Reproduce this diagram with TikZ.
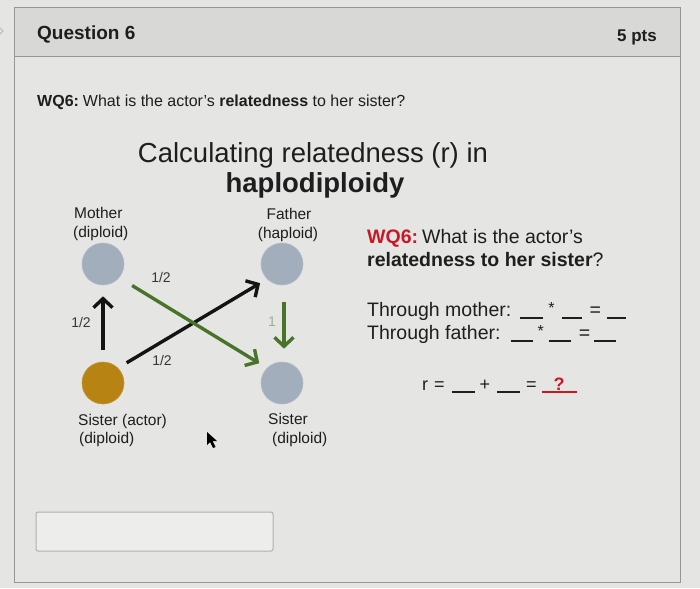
\documentclass[tikz,border=0pt]{standalone}
\usepackage{fontspec}
\setmainfont{Liberation Sans}
\usetikzlibrary{arrows.meta}
\definecolor{bgc}{RGB}{229,230,228}
\definecolor{hdrc}{RGB}{216,217,215}
\definecolor{framec}{RGB}{150,150,150}
\definecolor{boxc}{RGB}{175,176,174}
\definecolor{cgrey}{RGB}{163,174,189}
\definecolor{cgold}{RGB}{183,131,18}
\definecolor{agreen}{RGB}{72,115,40}
\definecolor{wqred}{RGB}{200,24,38}
\definecolor{txtc}{RGB}{30,30,30}
\definecolor{lblc}{RGB}{55,55,55}
\newcommand{\myfs}[1]{\fontsize{#1}{#1}\selectfont}
\newcommand{\blk}[1]{\rule[-2.5pt]{#1}{1.2pt}}
\newcommand{\mystar}{{\myfs{16}\raisebox{3pt}{*}}}
\begin{document}
\begin{tikzpicture}[x=1pt,y=-1pt,
  txt/.style={inner sep=0pt, anchor=base west, text=txtc},
  ctxt/.style={inner sep=0pt, anchor=base, text=txtc},
  person/.style={circle, minimum size=42pt, inner sep=0pt, fill=cgrey, draw=cgrey!85!white, line width=0.6pt},
  blkarrow/.style={draw=black!92, line width=3.4pt, -{Straight Barb[length=9pt,width=19pt]}},
  grnarrow/.style={draw=agreen, line width=3.4pt, -{Straight Barb[length=9pt,width=19pt]}},
  frac/.style={inner sep=0pt, text=lblc, font=\myfs{14}}]
\useasboundingbox (0,0) rectangle (700,588);
\fill[bgc] (0,0) rectangle (700,588);
% frame
\fill[hdrc] (14,8) rectangle (680,57);
\draw[framec, line width=1pt] (14,8) rectangle (680,582);
\draw[framec, line width=1pt] (14,57) -- (680,57);
\draw[framec!70!white, line width=1pt] (-1,27) -- (3,31) -- (-1,35);
% header
\node[txt, font=\myfs{19}\bfseries] (q) at (37,40) {Question 6};
\node[inner sep=0pt, anchor=base east, text=txtc, font=\myfs{17}\bfseries] (pts) at (657,42) {5 pts};
\node[txt, font=\myfs{16}] (wq) at (37,107) {\textbf{WQ6:}\hspace{4pt}What is the actor’s \textbf{relatedness} to her sister?};
% title
\node[ctxt, font=\myfs{27.5}] (t1) at (313,162) {Calculating relatedness (r) in};
\node[ctxt, font=\myfs{27.5}\bfseries] (t2) at (315,192) {haplodiploidy};
% persons
\node[person] (m) at (103,264) {};
\node[person] (f) at (282,264) {};
\node[person, fill=cgold, draw=cgold!85!white] (a) at (103,383) {};
\node[person] (s) at (282,383) {};
% labels
\node[txt, font=\myfs{15.5}] (ml1) at (74,218) {Mother};
\node[txt, font=\myfs{15.5}] (ml2) at (73,237) {(diploid)};
\node[ctxt, font=\myfs{15.5}] (fl1) at (289,219) {Father};
\node[ctxt, font=\myfs{15.5}] (fl2) at (288,238) {(haploid)};
\node[txt, font=\myfs{15.5}] (al1) at (78,425) {Sister (actor)};
\node[txt, font=\myfs{15.5}] (al2) at (79,443) {(diploid)};
\node[txt, font=\myfs{15.5}] (sl1) at (268,424) {Sister};
\node[txt, font=\myfs{15.5}] (sl2) at (272,443) {(diploid)};
% arrows
\draw[blkarrow, shorten <=12pt, shorten >=11pt] (a) -- (m);
\draw[blkarrow, shorten <=10pt, shorten >=8pt] (a.45) -- (f.225);
\draw[grnarrow, shorten <=15pt, shorten >=9pt] (m.-40) -- (s.135);
\draw[grnarrow, shorten <=17pt, shorten >=13pt] ([xshift=2pt]f.south) -- ([xshift=2pt]s.north);
\node[frac] (l1) at (81,322) {1/2};
\node[frac] (l2) at (161,277) {1/2};
\node[frac] (l3) at (162,360) {1/2};
\node[frac, text=agreen!55!white] (l4) at (272,322) {1};
% cursor
\fill[black] (207,432) -- (207,445) -- (210,442) -- (213,448) -- (215.5,447) -- (212.5,441) -- (217,441) -- cycle;
% right text
\node[txt, font=\myfs{19.5}] (w1) at (367,243) {\textcolor{wqred}{\textbf{WQ6:}}\hspace{4pt}What is the actor’s};
\node[txt, font=\myfs{19.5}\bfseries] (w2) at (367,266) {relatedness to her sister{\mdseries ?}};
\node[txt, font=\myfs{19.5}] (tm) at (367,316) {Through mother:\hspace{9pt}\blk{23pt}\hspace{5pt}\mystar\hspace{7pt}\blk{20pt}\hspace{8pt}=\hspace{6pt}\blk{19pt}};
\node[txt, font=\myfs{19.5}] (tf) at (367,339) {Through father:\hspace{10pt}\blk{22pt}\hspace{5pt}\mystar\hspace{5pt}\blk{22pt}\hspace{8pt}=\hspace{4pt}\blk{22pt}};
\node[txt, font=\myfs{18}] (rl) at (422,390) {r\hspace{6pt}=\hspace{7pt}\blk{23pt}\hspace{5pt}+\hspace{7pt}\blk{23pt}\hspace{6pt}=\hspace{5pt}\textcolor{wqred}{\rlap{\blk{35pt}}\makebox[35pt]{\textbf{?}}}};
% answer box
\draw[boxc, line width=1pt, rounded corners=2pt, fill=bgc!70!white] (36,512) rectangle (273,551);
\end{tikzpicture}
\end{document}
